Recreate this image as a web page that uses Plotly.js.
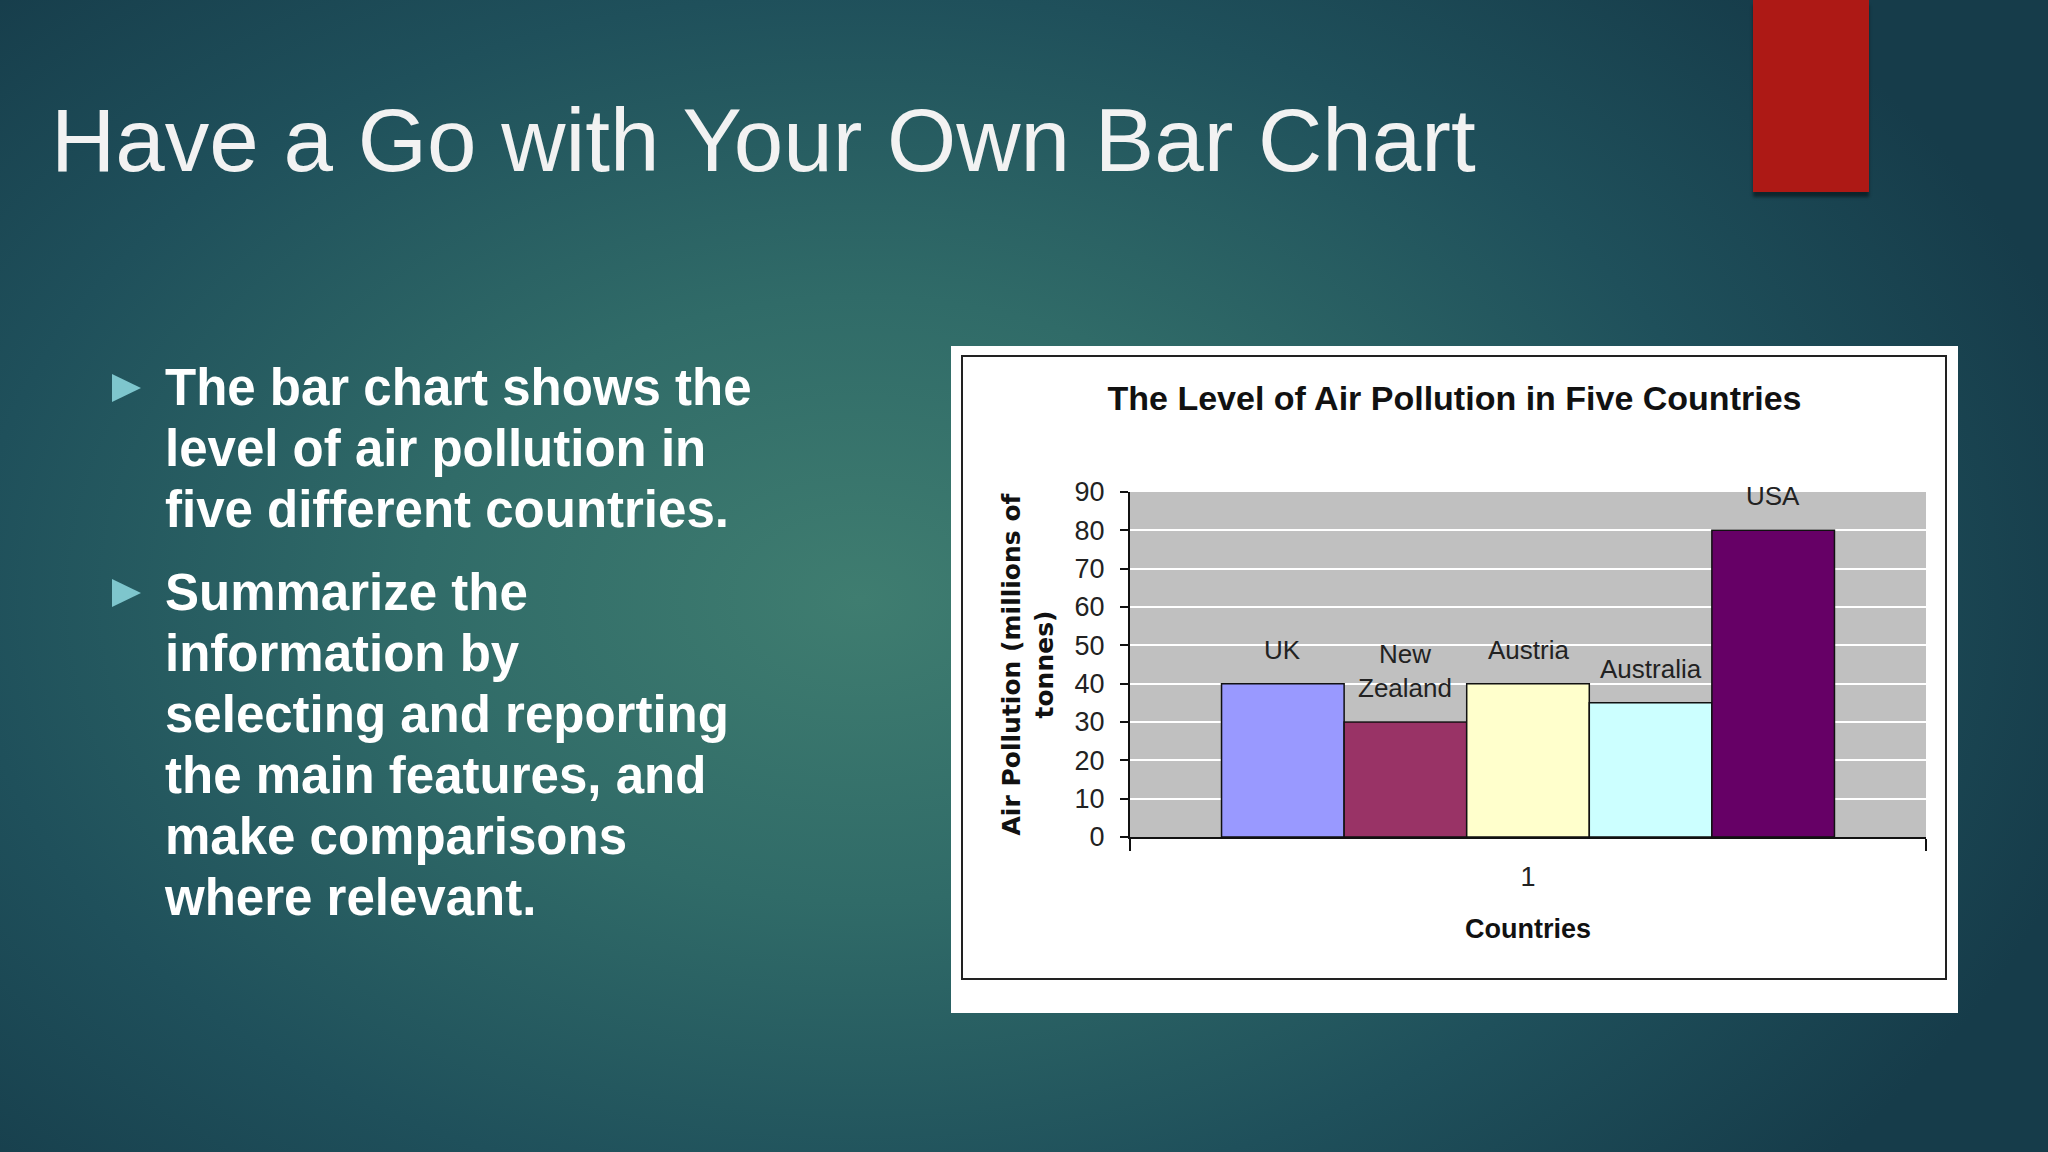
<!DOCTYPE html>
<html>
<head>
<meta charset="utf-8">
<script src="https://cdn.plot.ly/plotly-3.0.1.min.js"></script>
<style>
  html, body { margin:0; padding:0; width:2048px; height:1152px; overflow:hidden; }
  body {
    position:relative;
    background: radial-gradient(ellipse 62% 75% at 42% 52%, #3f7d70 0%, #306b68 35%, #1f505b 70%, #163c4a 100%);
    font-family: "Liberation Sans", Arial, sans-serif;
  }
  #slideTitle {
    position:absolute; left:51px; top:96px; font-size:89px; line-height:89px;
    color:#f2f2f2; white-space:nowrap;
  }
  #redBar {
    position:absolute; left:1753px; top:0; width:116px; height:192px; background:#ad1915;
    box-shadow: 0 5px 3px rgba(0,0,0,0.45);
  }
  .bullet {
    position:absolute; left:165px; font-size:51px; line-height:61px; font-weight:bold;
    color:#ffffff; white-space:nowrap;
  }
  .tri {
    position:absolute; left:112px; width:29px; height:28px; background:#7ec6cd;
    clip-path: polygon(0 0, 100% 50%, 0 100%);
  }
  #chart { position:absolute; left:951px; top:346px; width:1007px; height:667px; background:#ffffff; }
  #frame { position:absolute; left:961px; top:355px; width:986px; height:625px; border:2px solid #222;
    box-sizing:border-box; pointer-events:none; }
</style>
</head>
<body>
<div id="slideTitle">Have a Go with Your Own Bar Chart</div>
<div id="redBar"></div>
<div class="tri" style="top:374px"></div>
<div class="bullet" style="top:357px">The bar chart shows the<br>level of air pollution in<br>five different countries.</div>
<div class="tri" style="top:579px"></div>
<div class="bullet" style="top:562px">Summarize the<br>information by<br>selecting and reporting<br>the main features, and<br>make comparisons<br>where relevant.</div>
<div id="chart"></div>
<div id="frame"></div>
<script>
const countries = ['UK', 'New Zealand', 'Austria', 'Australia', 'USA'];
const barLabels = ['UK', 'New<br>Zealand', 'Austria', 'Australia', 'USA'];
const pollution = [40, 30, 40, 35, 80];
const barColors = ['#9999ff', '#993366', '#ffffcc', '#ccffff', '#660066'];
const category = ['1'];
const yTickVals = [0, 10, 20, 30, 40, 50, 60, 70, 80, 90];

const chartFont = 'Liberation Sans, Arial, sans-serif';
const bargap = 0.23;
const n = countries.length;

const traces = countries.map((c, i) => ({
  type: 'bar',
  name: c,
  x: category,
  y: [pollution[i]],
  marker: { color: barColors[i], line: { color: '#111', width: 1.5 } },
  hovertemplate: c + ': %{y}<extra></extra>'
}));

const annotations = countries.map((c, i) => ({
  xref: 'x', yref: 'y',
  x: (i - (n - 1) / 2) * (1 - bargap) / n,
  y: pollution[i],
  text: barLabels[i],
  showarrow: false,
  xanchor: 'center', yanchor: 'bottom',
  yshift: 17,
  font: { family: chartFont, size: 26, color: '#222' }
}));

const layout = {
  width: 1007, height: 667,
  margin: { l: 179, r: 32, t: 146, b: 176 },
  paper_bgcolor: '#ffffff',
  plot_bgcolor: '#c0c0c0',
  showlegend: false,
  barmode: 'group',
  bargap: bargap,
  bargroupgap: 0,
  title: {
    text: 'The Level of Air Pollution in Five Countries',
    font: { family: chartFont, size: 34, color: '#111', weight: 700 },
    x: 0.5, xref: 'container', xanchor: 'center',
    y: 0.922, yref: 'container', yanchor: 'middle'
  },
  xaxis: {
    type: 'category',
    range: [-0.5, 0.5],
    tickson: 'boundaries',
    ticks: 'outside', ticklen: 12, tickwidth: 2, tickcolor: '#111',
    showline: true, linecolor: '#111', linewidth: 2,
    showgrid: false, zeroline: false,
    tickfont: { family: chartFont, size: 27, color: '#222' },
    ticklabelstandoff: 15,
    title: { text: 'Countries', standoff: 28,
      font: { family: chartFont, size: 27, color: '#111', weight: 700 } }
  },
  yaxis: {
    range: [0, 90],
    tickvals: yTickVals,
    ticks: 'outside', ticklen: 8, tickwidth: 2, tickcolor: '#111',
    showline: true, linecolor: '#111', linewidth: 2,
    showgrid: true, gridcolor: '#ffffff', gridwidth: 2,
    zeroline: false,
    tickfont: { family: chartFont, size: 27, color: '#222' },
    ticklabelstandoff: 10,
    title: { text: 'Air Pollution (millions of<br>tonnes)', standoff: 14,
      font: { family: 'DejaVu Sans, sans-serif', size: 25, color: '#111', weight: 700 } }
  },
  annotations: annotations
};

Plotly.newPlot('chart', traces, layout, { displayModeBar: false, staticPlot: true });
</script>
</body>
</html>
